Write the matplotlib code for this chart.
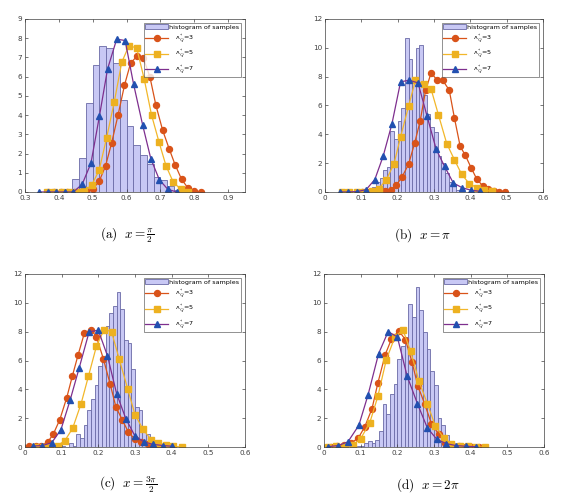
import matplotlib
matplotlib.use("Agg")
import matplotlib.pyplot as plt

plt.rcParams["mathtext.fontset"] = "cm"
plt.rcParams["font.family"] = ["DejaVu Sans"]

# ---- panel (a): x = pi/2 ----
a_hist_left = [0.44, 0.46, 0.48, 0.50, 0.52, 0.54, 0.56, 0.58, 0.60, 0.62, 0.64, 0.66, 0.68, 0.70, 0.72, 0.74]
a_hist_h = [0.7, 1.75, 4.65, 6.6, 7.58, 7.5, 6.7, 4.8, 3.45, 2.45, 1.9, 1.45, 0.8, 0.6, 0.3, 0.1]
a_r_x = [0.369, 0.387, 0.406, 0.425, 0.444, 0.462, 0.481, 0.500, 0.519, 0.538, 0.556, 0.575, 0.594,
         0.612, 0.630, 0.650, 0.669, 0.687, 0.707, 0.726, 0.744, 0.763, 0.781, 0.800, 0.819]
a_r_y = [0, 0, 0, 0, 0, 0.02, 0.05, 0.15, 0.55, 1.35, 2.55, 4.0, 5.55,
         6.7, 7.05, 6.95, 6.0, 4.5, 3.2, 2.25, 1.4, 0.65, 0.22, 0.05, 0]
a_y_x = [0.365, 0.387, 0.409, 0.431, 0.453, 0.475, 0.497, 0.519, 0.541, 0.564, 0.586, 0.607,
         0.630, 0.652, 0.674, 0.696, 0.717, 0.738, 0.761, 0.783]
a_y_y = [0, 0, 0, 0, 0.02, 0.08, 0.35, 1.13, 2.8, 4.7, 6.75, 7.6,
         7.5, 5.9, 4.0, 2.6, 1.35, 0.52, 0.13, 0.02]
a_b_x = [0.341, 0.367, 0.392, 0.418, 0.443, 0.469, 0.495, 0.520, 0.544, 0.571, 0.596,
         0.621, 0.648, 0.672, 0.697, 0.722, 0.748]
a_b_y = [0, 0, 0, 0, 0, 0.4, 1.5, 3.95, 6.4, 7.95, 7.88, 5.6, 3.46, 1.72, 0.64, 0.14, 0]

# ---- panel (b): x = pi ----
b_hist_left = [0.10, 0.11, 0.12, 0.13, 0.14, 0.15, 0.16, 0.17, 0.18, 0.19, 0.20, 0.21, 0.22, 0.23,
               0.24, 0.25, 0.26, 0.27, 0.28, 0.29, 0.30, 0.31, 0.32, 0.33, 0.34, 0.35, 0.36]
b_hist_h = [0.05, 0.1, 0.1, 0.35, 0.7, 1.0, 1.5, 1.7, 4.2, 3.7, 4.9, 5.8, 10.7, 9.2,
            7.75, 10.0, 10.2, 6.7, 5.4, 4.5, 4.15, 2.5, 2.0, 1.3, 0.7, 0.45, 0.15]
b_r_x = [0.101, 0.117, 0.132, 0.149, 0.164, 0.181, 0.196, 0.212, 0.230, 0.247, 0.262, 0.277,
         0.292, 0.309, 0.324, 0.342, 0.356, 0.372, 0.386, 0.402, 0.417, 0.434, 0.449, 0.464,
         0.479, 0.495]
b_r_y = [0, 0, 0.02, 0.05, 0.1, 0.16, 0.46, 1.04, 1.92, 3.42, 4.93, 7.06,
         8.26, 7.75, 7.75, 7.06, 5.16, 3.17, 2.55, 1.69, 0.93, 0.42, 0.23, 0.07, 0.02, 0]
b_y_x = [0.046, 0.067, 0.087, 0.108, 0.128, 0.148, 0.169, 0.190, 0.208, 0.230, 0.249, 0.272,
         0.292, 0.312, 0.335, 0.356, 0.376, 0.397, 0.418, 0.438, 0.459]
b_y_y = [0, 0, 0, 0.02, 0.07, 0.23, 0.86, 1.97, 3.82, 5.95, 7.75, 7.48,
         7.13, 5.37, 3.36, 2.25, 1.23, 0.58, 0.3, 0.12, 0.05]
b_b_x = [0.041, 0.064, 0.089, 0.113, 0.137, 0.160, 0.184, 0.208, 0.231, 0.256, 0.281,
         0.306, 0.329, 0.353, 0.377, 0.402, 0.426]
b_b_y = [0, 0, 0.03, 0.16, 0.86, 2.48, 4.7, 7.64, 7.75, 7.57, 5.25, 2.96, 1.78, 0.63, 0.3, 0.12, 0.05]

# ---- panel (c): x = 3pi/2 ----
c_hist_left = [0.10, 0.11, 0.12, 0.13, 0.14, 0.15, 0.16, 0.17, 0.18, 0.19, 0.20, 0.21, 0.22, 0.23,
               0.24, 0.25, 0.26, 0.27, 0.28, 0.29, 0.30, 0.31, 0.32, 0.33, 0.34, 0.35, 0.36, 0.37]
c_hist_h = [0.05, 0.0, 0.25, 0.1, 0.9, 0.6, 1.5, 2.6, 3.3, 4.3, 5.6, 5.9, 8.4, 9.3,
            9.8, 10.75, 9.6, 7.4, 7.2, 5.4, 2.8, 2.6, 1.3, 0.9, 0.6, 0.35, 0.15, 0.05]
c_r_x = [0.012, 0.029, 0.045, 0.062, 0.077, 0.095, 0.114, 0.129, 0.145, 0.162, 0.180, 0.195,
         0.214, 0.232, 0.248, 0.265, 0.282, 0.300, 0.316, 0.335, 0.350, 0.366, 0.384]
c_r_y = [0.07, 0.08, 0.1, 0.35, 0.88, 1.9, 3.43, 4.9, 6.4, 7.9, 8.15, 7.64,
         6.1, 4.4, 2.78, 1.9, 1.04, 0.53, 0.35, 0.18, 0.09, 0.07, 0]
c_y_x = [0.027, 0.048, 0.068, 0.089, 0.109, 0.130, 0.153, 0.173, 0.195, 0.216, 0.236, 0.257,
         0.280, 0.300, 0.321, 0.344, 0.364, 0.385, 0.405, 0.427]
c_y_y = [0, 0, 0, 0.1, 0.45, 1.3, 3.0, 4.9, 7.0, 8.15, 8.0, 6.1,
         4.05, 2.25, 1.27, 0.5, 0.28, 0.12, 0.05, 0]
c_b_x = [0.023, 0.047, 0.073, 0.098, 0.123, 0.148, 0.175, 0.200, 0.225, 0.250, 0.275,
         0.300, 0.325, 0.350, 0.377, 0.402]
c_b_y = [0.07, 0.1, 0.3, 1.2, 3.24, 5.5, 7.99, 8.1, 6.32, 3.7, 1.97, 0.76, 0.35, 0.18, 0.1, 0.05]

# ---- panel (d): x = 2pi ----
d_hist_left = [0.09, 0.10, 0.11, 0.12, 0.13, 0.14, 0.15, 0.16, 0.17, 0.18, 0.19, 0.20, 0.21, 0.22,
               0.23, 0.24, 0.25, 0.26, 0.27, 0.28, 0.29, 0.30, 0.31, 0.32, 0.33, 0.34, 0.35, 0.36]
d_hist_h = [0.05, 0.1, 0.3, 0.4, 0.25, 0.5, 1.1, 3.0, 2.3, 3.7, 4.4, 6.1, 7.0, 7.6,
            9.9, 9.0, 11.1, 9.5, 8.0, 6.8, 5.3, 4.3, 2.0, 1.5, 0.8, 0.4, 0.2, 0.05]
d_r_x = [0.018, 0.036, 0.055, 0.073, 0.093, 0.111, 0.131, 0.147, 0.167, 0.184, 0.204, 0.222,
         0.240, 0.256, 0.275, 0.293, 0.313, 0.331, 0.349, 0.367, 0.385, 0.404, 0.422]
d_r_y = [0, 0.05, 0.12, 0.28, 0.6, 1.39, 2.66, 4.44, 6.41, 7.48, 8.06, 7.45,
         5.9, 4.24, 2.96, 1.62, 0.88, 0.28, 0.12, 0.05, 0.02, 0, 0]
d_y_x = [0.011, 0.034, 0.056, 0.079, 0.100, 0.125, 0.147, 0.170, 0.193, 0.215, 0.236, 0.259,
         0.282, 0.304, 0.326, 0.347, 0.370, 0.393, 0.415, 0.438]
d_y_y = [0, 0.05, 0.07, 0.16, 0.58, 1.69, 3.52, 6.06, 7.6, 8.15, 6.67, 4.58,
         3.0, 1.44, 0.65, 0.23, 0.09, 0.05, 0, 0]
d_b_x = [0.011, 0.038, 0.065, 0.095, 0.120, 0.149, 0.175, 0.200, 0.227, 0.255, 0.282,
         0.308, 0.334, 0.360, 0.388, 0.415]
d_b_y = [0.02, 0.1, 0.35, 1.5, 3.6, 6.48, 8.0, 7.64, 4.9, 3.0, 1.32, 0.53, 0.23, 0.1, 0.05, 0.02]

labels = ["histogram of samples", "   ʌ$^{*}_{Q}$=3", "   ʌ$^{*}_{Q}$=5", "   ʌ$^{*}_{Q}$=7"]
captions = [r"$\mathrm{(a)}\ \ x=\frac{\pi}{2}$", r"$\mathrm{(b)}\ \ x=\pi$",
            r"$\mathrm{(c)}\ \ x=\frac{3\pi}{2}$", r"$\mathrm{(d)}\ \ x=2\pi$"]

panels = [
    (a_hist_left, a_hist_h, 0.02, a_r_x, a_r_y, a_y_x, a_y_y, a_b_x, a_b_y),
    (b_hist_left, b_hist_h, 0.01, b_r_x, b_r_y, b_y_x, b_y_y, b_b_x, b_b_y),
    (c_hist_left, c_hist_h, 0.01, c_r_x, c_r_y, c_y_x, c_y_y, c_b_x, c_b_y),
    (d_hist_left, d_hist_h, 0.01, d_r_x, d_r_y, d_y_x, d_y_y, d_b_x, d_b_y),
]

# axes boxes in figure fraction (left, bottom, width, height)
boxes = [
    (0.0439, 0.6145, 0.3866, 0.3474),
    (0.5712, 0.6145, 0.3831, 0.3474),
    (0.0439, 0.1024, 0.3866, 0.3474),
    (0.5694, 0.1024, 0.3866, 0.3474),
]
cap_pos = [(0.223, 0.528), (0.742, 0.528), (0.225, 0.026), (0.752, 0.026)]

fig = plt.figure(figsize=(5.69, 4.98), dpi=100)

for i, (hl, hh, w, rx, ry, yx, yy, bx, by) in enumerate(panels):
    ax = fig.add_axes(boxes[i])
    h0 = ax.bar(hl, hh, width=w, align="edge", color="#c8c8f4", edgecolor="#6a6aa6",
                linewidth=0.6)
    h1, = ax.plot(rx, ry, "-o", color="#d95319", markerfacecolor="#d95319", markeredgecolor="#d95319",
                  markersize=4.3, linewidth=0.9)
    h2, = ax.plot(yx, yy, "-s", color="#f2b72a", markerfacecolor="#edb120", markeredgecolor="#edb120",
                  markersize=3.8, linewidth=0.9)
    h3, = ax.plot(bx, by, "-^", color="#7e2f8e", markerfacecolor="#2250b0", markeredgecolor="#2250b0",
                  markersize=4.5, linewidth=0.9)

    if i == 0:
        ax.set_xlim(0.3, 0.95)
        ax.set_ylim(0, 9)
        ax.set_xticks([0.3, 0.4, 0.5, 0.6, 0.7, 0.8, 0.9])
        ax.set_yticks(range(0, 10))
    else:
        ax.set_xlim(0, 0.6)
        ax.set_ylim(0, 12)
        ax.set_xticks([0, 0.1, 0.2, 0.3, 0.4, 0.5, 0.6])
        ax.set_xticklabels(["0", "0.1", "0.2", "0.3", "0.4", "0.5", "0.6"])
        ax.set_yticks(range(0, 13, 2))

    ax.tick_params(direction="in", length=2, width=0.5, labelsize=5.2, colors="#404040",
                   top=True, right=True, pad=2)
    for s in ax.spines.values():
        s.set_linewidth(0.5)
        s.set_color("#404040")

    leg = ax.legend([h0, h1, h2, h3], labels, loc="upper right", fontsize=4.6, frameon=True,
                    fancybox=False, borderaxespad=0.6, handlelength=3.6, handletextpad=0.2,
                    labelspacing=0.45, borderpad=0.25)
    leg.get_frame().set_edgecolor("#404040")
    leg.get_frame().set_linewidth(0.5)

    fig.text(cap_pos[i][0], cap_pos[i][1], captions[i], fontsize=9.5, ha="center", va="center")

fig.savefig("out.png", dpi=100)
